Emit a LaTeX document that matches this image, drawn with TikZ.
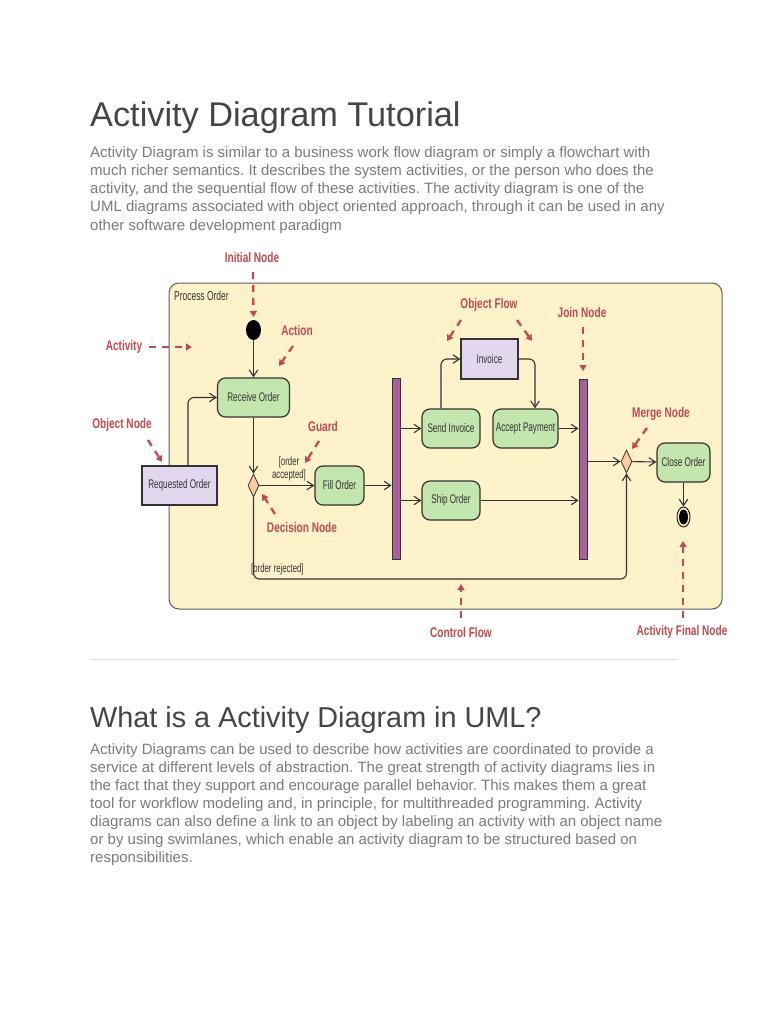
\documentclass[tikz,border=0pt]{standalone}
\usepackage{fontspec}
\setmainfont{Liberation Sans}
\newfontfamily\diagfont[FakeStretch=0.65]{Liberation Sans}
\newfontfamily\notefont[FakeStretch=0.72]{Liberation Sans}
\usetikzlibrary{arrows.meta, calc, positioning, shapes.geometric}
\definecolor{framefill}{HTML}{FEF2CB}
\definecolor{actfill}{HTML}{C3E5AE}
\definecolor{objfill}{HTML}{E3D7EF}
\definecolor{barfill}{HTML}{A8619C}
\definecolor{decfill}{HTML}{F9CCA3}
\definecolor{notered}{HTML}{BD4B51}
\definecolor{headgray}{HTML}{454545}
\definecolor{bodygray}{HTML}{7B7B7B}
\definecolor{edgegray}{HTML}{333333}
\frenchspacing

\begin{document}
\begin{tikzpicture}[x=1pt,y=-1pt,>={Straight Barb[length=6.5pt,width=8.5pt]},
  flow/.style={->,edgegray,line width=1.1pt},
  action/.style={draw=edgegray,fill=actfill,line width=1.2pt,rounded corners=8pt,inner sep=0pt,
    text=edgegray,font=\diagfont\fontsize{12.5}{14}\selectfont},
  object/.style={draw=edgegray,fill=objfill,line width=1.2pt,inner sep=0pt,
    text=edgegray,font=\diagfont\fontsize{12.5}{14}\selectfont},
  forkbar/.style={draw=edgegray,fill=barfill,line width=0.8pt,minimum width=8pt,inner sep=0pt},
  decision/.style={diamond,draw=edgegray,fill=decfill,line width=0.8pt,minimum width=11pt,
    minimum height=23pt,inner sep=0pt},
  guard/.style={inner sep=0pt,text=edgegray,font=\diagfont\fontsize{12}{13}\selectfont},
  note/.style={inner sep=1pt,text=notered,font=\notefont\bfseries\fontsize{14}{16}\selectfont},
  pointer/.style={-{Triangle[length=6pt,width=7pt]},notered,line width=2.3pt,dash pattern=on 7pt off 6pt},
  bodytext/.style={anchor=base west,inner sep=0pt,text=bodygray,font=\fontsize{15}{18}\selectfont}]
\fill[white] (0,0) rectangle (768,1024);
\useasboundingbox (0,0) rectangle (768,1024);

% page text
\node[anchor=base west,inner sep=0pt,text=headgray,font=\fontsize{34.3}{40}\selectfont] (TT) at (90,127) {Activity Diagram Tutorial};
\foreach \txt [count=\i] in {{Activity Diagram is similar to a business work flow diagram or simply a flowchart with},
  {much richer semantics. It describes the system activities, or the person who does the},
  {activity, and the sequential flow of these activities. The activity diagram is one of the},
  {UML diagrams associated with object oriented approach, through it can be used in any},
  {other software development paradigm}}
  \node[bodytext] at (90,{158+18*(\i-1)}) {\txt};

\draw[black!15,line width=1pt] (90,659) -- (678,659);

\node[anchor=base west,inner sep=0pt,text=headgray,font=\fontsize{28.8}{34}\selectfont] (WH) at (90,727) {What is a Activity Diagram in UML?};
\foreach \txt [count=\i] in {{Activity Diagrams can be used to describe how activities are coordinated to provide a},
  {service at different levels of abstraction. The great strength of activity diagrams lies in},
  {the fact that they support and encourage parallel behavior. This makes them a great},
  {tool for workflow modeling and, in principle, for multithreaded programming. Activity},
  {diagrams can also define a link to an object by labeling an activity with an object name},
  {or by using swimlanes, which enable an activity diagram to be structured based on},
  {responsibilities.}}
  \node[bodytext] at (90,{754+18*(\i-1)}) {\txt};

% activity frame
\node[draw=edgegray!80,fill=framefill,line width=1pt,rounded corners=10pt,
  minimum width=553pt,minimum height=326pt] (PO) at (445.5,446) {};
\node[anchor=west,inner sep=0pt,text=edgegray,font=\diagfont\fontsize{13}{14}\selectfont] at (174,296) {Process Order};

\node[ellipse,fill=black,minimum width=15pt,minimum height=20pt,inner sep=0pt] (IN) at (253.5,330) {};
\node[action,minimum width=72pt,minimum height=39pt] (RO) at (253.5,397.5) {Receive Order};
\node[object,minimum width=75pt,minimum height=39pt] (RQ) at (179.5,485.5) {Requested Order};
\node[decision] (DN) at (253.5,485.5) {};
\node[action,minimum width=49pt,minimum height=39pt] (FO) at (339.5,485.5) {Fill Order};
\node[forkbar,minimum height=181pt] (FK) at (396,468.5) {};
\node[action,minimum width=58pt,minimum height=39pt] (SI) at (451,428.5) {Send Invoice};
\node[action,minimum width=58pt,minimum height=39pt] (SH) at (451,500.5) {Ship Order};
\node[object,minimum width=57pt,minimum height=40pt] (IV) at (489.5,359) {Invoice};
\node[action,minimum width=65pt,minimum height=39pt] (AP) at (525.5,428.5) {Accept Payment};
\node[forkbar,minimum height=180pt] (JN) at (583,469) {};
\node[decision] (MG) at (626.5,461.5) {};
\node[action,minimum width=53pt,minimum height=39pt] (CO) at (683.5,462.5) {Close Order};
\node[ellipse,draw=black,line width=0.8pt,fill=framefill,minimum width=13pt,minimum height=20pt,inner sep=0pt] (FN) at (683.5,517) {};
\node[ellipse,fill=black,minimum width=9pt,minimum height=15pt,inner sep=0pt] (FNi) at (FN) {};
\coordinate (RJ) at (626.5,579);

\draw[flow] (IN) -- (RO);
\draw[flow,rounded corners=6pt] ([xshift=8.5pt]RQ.north) |- (RO.west);
\draw[flow] (RO) -- (DN);
\draw[flow] (DN) -- (FO);
\draw[flow] (FO) -- (FO -| FK.west);
\draw[flow] (FK.east |- SI) -- (SI);
\draw[flow] (FK.east |- SH) -- (SH);
\draw[flow,rounded corners=6pt] ([xshift=-10pt]SI.north) |- (IV.west);
\draw[flow,rounded corners=6pt] (IV.east) -| ([xshift=9.5pt]AP.north);
\draw[flow] (AP) -- (AP -| JN.west);
\draw[flow] (SH) -- (SH -| JN.west);
\draw[flow] (JN.east |- MG) -- (MG);
\draw[flow] (MG) -- (CO);
\draw[flow] (CO) -- (FN);
\draw[flow,rounded corners=6pt] (DN.south) |- (RJ) -- (MG.south);

\node[guard,align=center] (GA) at (289,469) {[order\\accepted]};
\node[guard,anchor=west] (GR) at (251,569) {[order rejected]};

% callouts
\node[note] (lIN) at (252,257) {Initial Node};
\node[note] (lAC) at (297,330) {Action};
\node[note] (lAY) at (124,347) {Activity};
\node[note] (lON) at (122,425) {Object Node};
\node[note] (lGU) at (323,426) {Guard};
\node[note] (lDN) at (302,527) {Decision Node};
\node[note] (lOF) at (489,305) {Object Flow};
\node[note] (lJN) at (582,312) {Join Node};
\node[note] (lMN) at (661,414) {Merge Node};
\node[note] (lCF) at (461,632) {Control Flow};
\node[note] (lAF) at (682,632) {Activity Final Node};

\foreach \n/\p in {tIN/{253.5,317},tAC/{279,366},tAY/{192,347},tON/{162,462},tGU/{305,463},
  tDN/{262,494},tOFa/{447,341},tOFb/{532,341},tJN/{583,371},tMN/{632,449},tCF/{461,584},tAF/{683,541}}
  \coordinate (\n) at (\p);

\foreach \l/\s/\t in {lIN/{1,15}/tIN,lAC/{-4,16}/tAC,lAY/{25,0}/tAY,lON/{26,15}/tON,lGU/{-4,15}/tGU,
  lDN/{-27,-13}/tDN,lOF/{-28,15}/tOFa,lOF/{28,15}/tOFb,lJN/{1,15}/tJN,lMN/{-14,14}/tMN,
  lCF/{0,-14}/tCF,lAF/{1,-14}/tAF}
  \draw[pointer] ([shift={(\s)}]\l.center) -- (\t);
\end{tikzpicture}
\end{document}
